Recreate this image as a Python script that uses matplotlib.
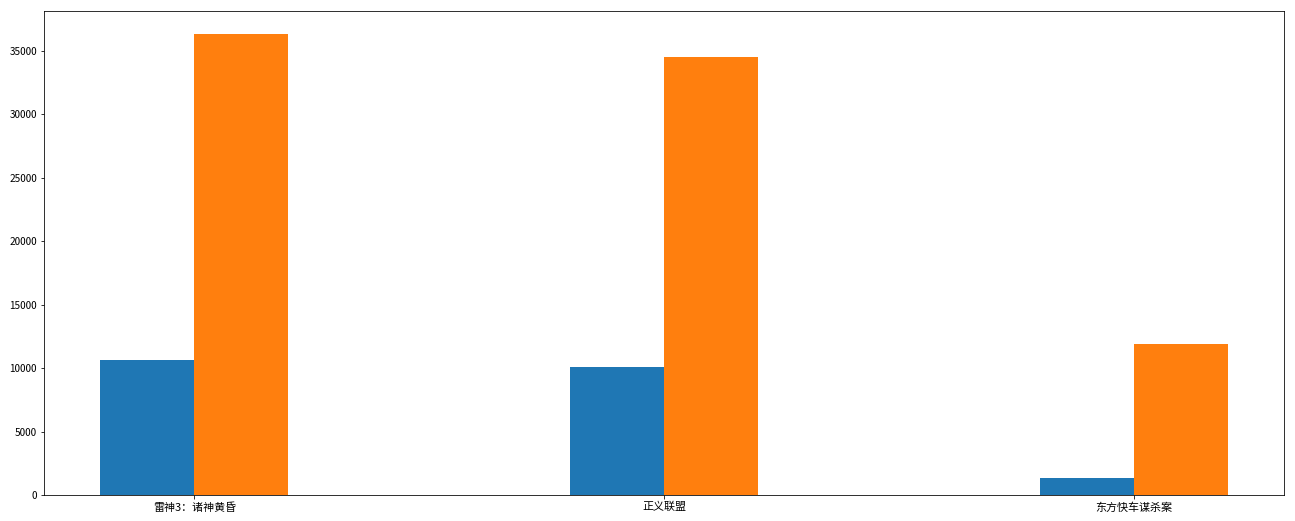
import numpy as np
import matplotlib
matplotlib.use("Agg")
import matplotlib.pyplot as plt

plt.rcParams['font.family'] = ['Noto Sans CJK SC', 'DejaVu Sans']
plt.rcParams['axes.unicode_minus'] = False

movies = ["雷神3：诸神黄昏", "正义联盟", "东方快车谋杀案"]
series_a = [10640, 10090, 1340]
series_b = [36340, 34530, 11900]

width = 0.2
x = np.arange(len(movies))

fig = plt.figure(figsize=(1295 / 72, 521 / 72), dpi=72)
ax = fig.add_axes([0.034, 0.05, 0.9575, 0.929])
ax.bar(x, series_a, width=width)
ax.bar(x + width, series_b, width=width)
ax.set_xticks(x + width / 2)
ax.set_xticklabels(movies)
ax.tick_params(axis="x", labelsize=11)
ax.tick_params(axis="y", labelsize=10)

fig.savefig("out.png", dpi=72)
